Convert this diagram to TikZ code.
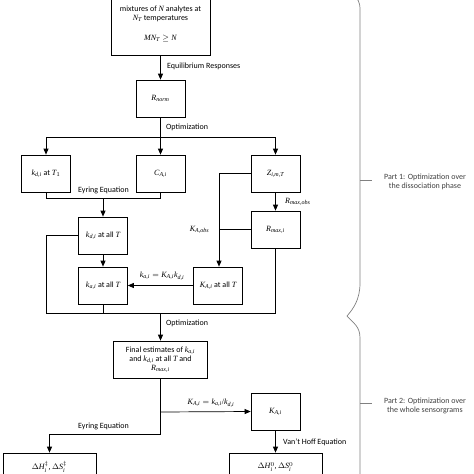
\documentclass[tikz,border=0pt]{standalone}
\usepackage{fontspec}
\setmainfont{Liberation Serif}
\usepackage[italic]{mathastext}
\setmainfont{Carlito}
\usetikzlibrary{arrows.meta}
\tikzset{
  box/.style={draw=black, line width=0.7pt, minimum width=49pt, minimum height=37pt, inner sep=1pt, align=center, font=\fontsize{8}{10}\selectfont},
  conn/.style={draw=black, line width=0.7pt},
  arr/.style={conn, -{Triangle[length=6pt,width=5pt]}},
  lbl/.style={font=\fontsize{8}{10}\selectfont, inner sep=1pt},
  brace/.style={draw=black!50, line width=0.7pt},
  parttxt/.style={font=\fontsize{8}{10}\selectfont, text=black!75, align=center},
}
\begin{document}
\begin{tikzpicture}[x=1pt,y=-1pt]
\useasboundingbox (0,0) rectangle (474,474);
\begin{scope}
\clip (0,0) rectangle (474,474);
% nodes
\node[box, minimum width=99pt, minimum height=80pt] (top) at (160.5,15) {};
\node[lbl, align=center] (toptxt) at (160.5,24) {mixtures of $N$ analytes at\\[-1pt] $N_T$ temperatures\\[10pt] $MN_T \geq N$};
\node[box] (rnorm) at (160.5,98.5) {$R_{norm}$};
\node[box] (kd1) at (46,173.5) {$k_{d,i}$ at $T_1$};
\node[box] (ca) at (160.5,173.5) {$C_{A,i}$};
\node[box] (z) at (275.5,173.5) {$Z_{i,m,T}$};
\node[box] (kdall) at (103,235.5) {$k_{d,i}$ at all $T$};
\node[box] (rmax) at (275.5,229.5) {$R_{max,i}$};
\node[box] (kaall) at (103,285.5) {$k_{a,i}$ at all $T$};
\node[box] (KAall) at (218,285.5) {$K_{A,i}$ at all $T$};
\node[box, minimum width=94pt] (final) at (160.5,359.5) {Final estimates of $k_{a,i}$\\[-1pt] and $k_{d,i}$ at all $T$ and\\[-1pt] $R_{max,i}$};
\node[box] (KAi) at (275.5,411.5) {$K_{A,i}$};
\node[box, minimum width=93pt, minimum height=28pt] (dhdag) at (49.5,467) {$\Delta H_i^{\ddagger}, \Delta S_i^{\ddagger}$};
\node[box, minimum width=93pt, minimum height=28pt] (dh0) at (275.5,467) {$\Delta H_i^{0}, \Delta S_i^{0}$};
% coordinates
\coordinate (opt1) at (160.5,137);
\coordinate (optL) at (46,137);
\coordinate (optR) at (275.5,137);
\coordinate (ey1L) at (46,198);
\coordinate (ey1R) at (160.5,198);
\coordinate (ey1M) at (103,198);
\coordinate (kdL) at (46,235.5);
\coordinate (zL) at (219,173.5);
\coordinate (rmL) at (219,229.5);
\coordinate (botL) at (46,313);
\coordinate (botR) at (275.5,313);
\coordinate (botM) at (160.5,313);
\coordinate (botKa) at (103,313);
\coordinate (fin1) at (160.5,412);
\coordinate (fin2) at (160.5,434);
\coordinate (fin2L) at (49.5,434);
% connectors
\draw[arr] (top.south) -- (rnorm.north);
\draw[conn] (rnorm.south) -- (opt1);
\draw[conn] (optL) -- (optR);
\draw[arr] (optL) -- (kd1.north);
\draw[arr] (opt1) -- (ca.north);
\draw[arr] (optR) -- (z.north);
\draw[conn] (kd1.south) -- (ey1L) -- (ey1R) -- (ca.south);
\draw[arr] (ey1M) -- (kdall.north);
\draw[arr] (kdall.south) -- (kaall.north);
\draw[arr] (z.south) -- (rmax.north);
\draw[conn] (z.west) -- (zL);
\draw[arr] (zL) -- (zL |- KAall.north);
\draw[conn] (rmax.west) -- (rmL);
\draw[arr] (KAall.west) -- (kaall.east);
\draw[conn] (kdall.west) -- (kdL) -- (botL) -- (botR) -- (rmax.south);
\draw[conn] (kaall.south) -- (botKa);
\draw[arr] (botM) -- (final.north);
\draw[conn] (final.south) -- (fin2);
\draw[arr] (fin1) -- (KAi.west);
\draw[conn] (fin2) -- (fin2L);
\draw[arr] (fin2L) -- (dhdag.north);
\draw[arr] (KAi.south) -- (dh0.north);
% labels
\node[lbl, anchor=west] (l1) at (166,66) {Equilibrium Responses};
\node[lbl, anchor=west] (l2) at (165,127) {Optimization};
\node[lbl] (l3) at (103.5,190) {Eyring Equation};
\node[lbl] (l4) at (199.5,230) {$K_{A,obs}$};
\node[lbl, anchor=west] (l5) at (284,202) {$R_{max,obs}$};
\node[lbl] (l6) at (162,276) {$k_{a,i} = K_{A,i}k_{d,i}$};
\node[lbl, anchor=west] (l7) at (165,323) {Optimization};
\node[lbl] (l8) at (211,403) {$K_{A,i} = k_{a,i}/k_{d,i}$};
\node[lbl] (l9) at (103.5,426) {Eyring Equation};
\node[lbl, anchor=west] (l10) at (282,442) {Van't Hoff Equation};
% braces
\draw[brace] (353,-4) .. controls (358,-2) and (360,2) .. (360,10) -- (360,283) .. controls (360,300) and (353,309) .. (347,316);
\draw[brace] (347,316) .. controls (353,323) and (360,326) .. (360,338) -- (360,480);
\coordinate (b1) at (360,180);
\coordinate (b1e) at (372,180);
\coordinate (b2) at (360,403);
\coordinate (b2e) at (372,403);
\draw[brace] (b1) -- (b1e);
\draw[brace] (b2) -- (b2e);
\node[parttxt] (p1) at (425,181.5) {Part 1: Optimization over\\[-1pt] the dissociation phase};
\node[parttxt] (p2) at (425,405.5) {Part 2: Optimization over\\[-1pt] the whole sensorgrams};
\end{scope}
\end{tikzpicture}
\end{document}
